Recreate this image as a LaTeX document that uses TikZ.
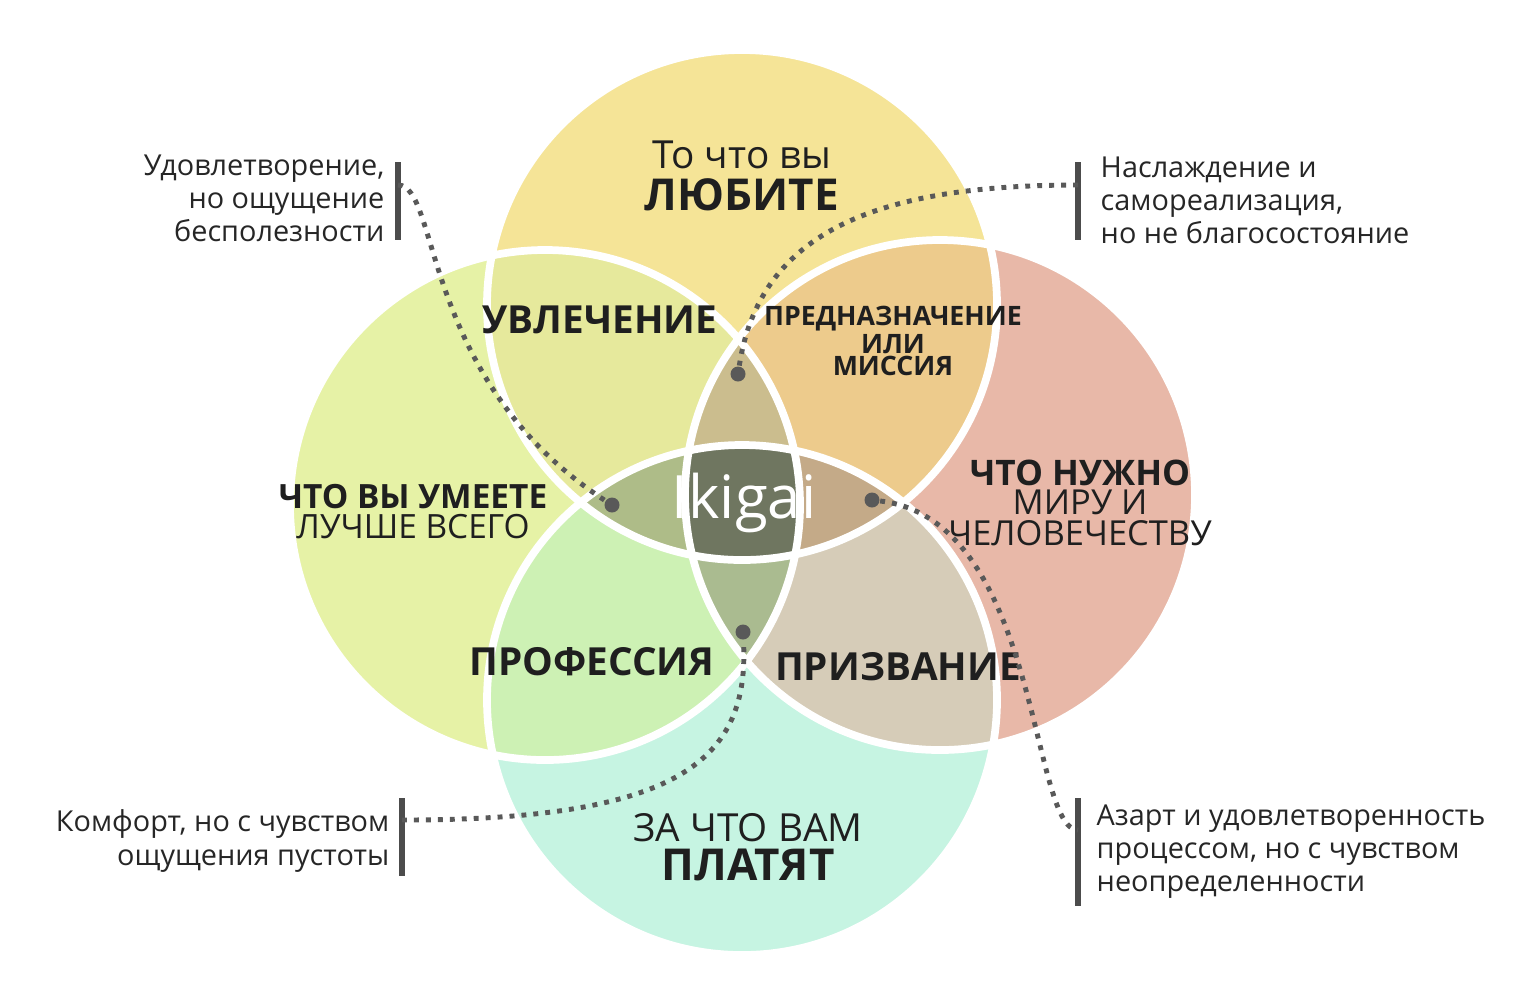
\documentclass[tikz,border=0pt]{standalone}
\usepackage{fontspec}
\setmainfont{Open Sans}
\begin{document}
\begin{tikzpicture}[x=0.01cm,y=-0.01cm,
  lbl/.style={text=black!88,align=center,inner sep=0pt},
  note/.style={text=black!85,font=\fontsize{8.2}{9.4}\selectfont,inner sep=0pt},
  bar/.style={draw=black!70,line width=1.6pt},
  lead/.style={draw=black!65,line width=1.4pt,dotted},
  dot/.style={circle,fill=black!65,inner sep=0pt,minimum size=0.15cm}]
\useasboundingbox (0,0) rectangle (1534,1002);
\def\R{255}
\coordinate (T) at (742,305);
\coordinate (L) at (545,505);
\coordinate (Rr) at (940,495);
\coordinate (B) at (742,700);
\definecolor{cT}{HTML}{F5E497}
\definecolor{cL}{HTML}{E6F2A6}
\definecolor{cR}{HTML}{E8B8A8}
\definecolor{cB}{HTML}{C6F4E2}
\definecolor{cTL}{HTML}{E6E99C}
\definecolor{cTR}{HTML}{EDCB8C}
\definecolor{cLB}{HTML}{CDF1B4}
\definecolor{cRB}{HTML}{D6CCB8}
\definecolor{cLR}{HTML}{C8C29A}
\definecolor{cTLR}{HTML}{CBBD8E}
\definecolor{cTLB}{HTML}{AEBC88}
\definecolor{cTRB}{HTML}{C4AA88}
\definecolor{cLRB}{HTML}{AABB90}
\definecolor{cQ}{HTML}{6F7660}
\fill[cT] (T) circle (\R);
\fill[cL] (L) circle (\R);
\fill[cR] (Rr) circle (\R);
\fill[cB] (B) circle (\R);
\begin{scope}\clip (T) circle (\R); \fill[cTL] (L) circle (\R); \end{scope}
\begin{scope}\clip (T) circle (\R); \fill[cTR] (Rr) circle (\R); \end{scope}
\begin{scope}\clip (L) circle (\R); \fill[cLB] (B) circle (\R); \end{scope}
\begin{scope}\clip (Rr) circle (\R); \fill[cRB] (B) circle (\R); \end{scope}
\begin{scope}\clip (L) circle (\R); \fill[cLR] (Rr) circle (\R); \end{scope}
\begin{scope}\clip (T) circle (\R); \clip (L) circle (\R); \fill[cTLR] (Rr) circle (\R); \end{scope}
\begin{scope}\clip (T) circle (\R); \clip (L) circle (\R); \fill[cTLB] (B) circle (\R); \end{scope}
\begin{scope}\clip (T) circle (\R); \clip (Rr) circle (\R); \fill[cTRB] (B) circle (\R); \end{scope}
\begin{scope}\clip (L) circle (\R); \clip (Rr) circle (\R); \fill[cLRB] (B) circle (\R); \end{scope}
\begin{scope}\clip (T) circle (\R); \clip (L) circle (\R); \clip (Rr) circle (\R); \fill[cQ] (B) circle (\R); \end{scope}
\foreach \c in {T,L,Rr,B} \draw[white,line width=2.2pt] (\c) circle (\R);

\node[lbl,font=\fontsize{11}{12}\selectfont] (t1) at (742,155) {То что вы};
\node[lbl,font=\bfseries\fontsize{12.5}{13}\selectfont] (t2) at (742,195) {ЛЮБИТЕ};
\node[lbl,font=\bfseries\fontsize{11}{12}\selectfont] (uv) at (600,320) {УВЛЕЧЕНИЕ};
\node[lbl,font=\bfseries\fontsize{7.6}{6.2}\selectfont] (pr) at (893,341) {ПРЕДНАЗНАЧЕНИЕ\\ИЛИ\\МИССИЯ};
\node[lbl,font=\bfseries\fontsize{9.5}{10}\selectfont] (u1) at (413,497) {ЧТО ВЫ УМЕЕТЕ};
\node[lbl,font=\fontsize{9.5}{10}\selectfont] (u2) at (413,527) {ЛУЧШЕ ВСЕГО};
\node[lbl,font=\bfseries\fontsize{10}{10}\selectfont] (n1) at (1080,473) {ЧТО НУЖНО};
\node[lbl,font=\fontsize{9.8}{8.6}\selectfont] (n2) at (1080,518) {МИРУ И\\ЧЕЛОВЕЧЕСТВУ};
\node[lbl,font=\bfseries\fontsize{11}{12}\selectfont] (pf) at (592,662) {ПРОФЕССИЯ};
\node[lbl,font=\bfseries\fontsize{11}{12}\selectfont] (pz) at (898,667) {ПРИЗВАНИЕ};
\node[lbl,font=\fontsize{11}{12}\selectfont] (b1) at (748,828) {ЗА ЧТО ВАМ};
\node[lbl,font=\bfseries\fontsize{12.5}{13}\selectfont] (b2) at (748,865) {ПЛАТЯТ};
\node[lbl,text=white,font=\fontsize{17}{18}\selectfont] (ik) at (744,503) {Ikigai};

\node[note,align=right,anchor=east] (a1) at (385,198) {Удовлетворение,\\но ощущение\\бесполезности};
\node[note,align=left,anchor=west] (a2) at (1100,200) {Наслаждение и\\самореализация,\\но не благосостояние};
\node[note,align=right,anchor=east] (a3) at (390,841) {Комфорт, но с чувством\\ощущения пустоты};
\node[note,align=left,anchor=west] (a4) at (1096,852) {Азарт и удовлетворенность\\процессом, но с чувством\\неопределенности};

\coordinate (s1a) at (398,162); \coordinate (s1b) at (398,240);
\coordinate (s2a) at (1078,162); \coordinate (s2b) at (1078,240);
\coordinate (s3a) at (402,798); \coordinate (s3b) at (402,876);
\coordinate (s4a) at (1078,798); \coordinate (s4b) at (1078,906);
\draw[bar] (s1a) -- (s1b);
\draw[bar] (s2a) -- (s2b);
\draw[bar] (s3a) -- (s3b);
\draw[bar] (s4a) -- (s4b);

\node[dot] (d1) at (612,505) {};
\node[dot] (d2) at (738,374) {};
\node[dot] (d3) at (743,632) {};
\node[dot] (d4) at (872,500) {};
\coordinate (e1) at (398,185);
\coordinate (e2) at (1078,185);
\coordinate (e3) at (402,820);
\coordinate (e4) at (1078,830);
\draw[lead] (e1) .. controls (440,185) and (420,380) .. (d1);
\draw[lead] (e2) .. controls (880,185) and (760,230) .. (d2);
\draw[lead] (e3) .. controls (680,820) and (750,760) .. (d3);
\draw[lead] (d4) .. controls (1040,520) and (1030,830) .. (e4);
\end{tikzpicture}
\end{document}
